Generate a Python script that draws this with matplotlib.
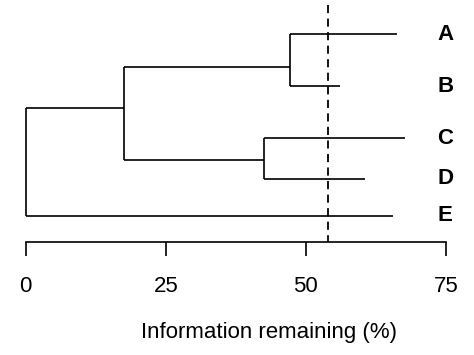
import matplotlib.pyplot as plt

# --- data ---
leaves = ['A', 'B', 'C', 'D', 'E']
leaf_end = [66.2, 56.0, 67.7, 60.6, 65.5]      # where each leaf branch stops (%)
leaf_parent = ['AB', 'AB', 'CD', 'CD', 'root']
nodes = ['AB', 'CD', 'ABCD', 'root']
node_height = [47.2, 42.5, 17.6, 0.0]          # information remaining at merge (%)
node_parent = ['ABCD', 'ABCD', 'root', None]
cutoff = 54.0
ticks = [0, 25, 50, 75]

# vertical layout (pixel rows of the reference, top = 0)
leaf_row = {'A': 34.3, 'B': 86.0, 'C': 138.3, 'D': 179.0, 'E': 215.7}
node_row = {'AB': 67.3, 'CD': 160.0, 'ABCD': 108.3, 'root': 160.0}

plt.rcParams['font.family'] = ['Liberation Sans', 'DejaVu Sans']

W, H = 474, 355
fig = plt.figure(figsize=(W / 100, H / 100), dpi=100)
x0, x1 = 25.7, 446.0
y_axis = 241.7
ax = fig.add_axes([x0 / W, 1 - y_axis / H, (x1 - x0) / W, y_axis / H])
ax.set_xlim(0, 75)
ax.set_ylim(y_axis, 0)

height = dict(zip(nodes, node_height))
kw = dict(color='black', lw=1.2, clip_on=False, solid_capstyle='butt')

# leaf branches
for name, end, par in zip(leaves, leaf_end, leaf_parent):
    ax.plot([height[par], end], [leaf_row[name]] * 2, **kw)
    ax.text(73.4, leaf_row[name], name, fontsize=16, fontweight='bold',
            ha='left', va='center')

# internal branches
for name, par in zip(nodes, node_parent):
    if par is not None:
        ax.plot([height[par], height[name]], [node_row[name]] * 2, **kw)

# vertical connectors
children = {}
for name, par in zip(leaves, leaf_parent):
    children.setdefault(par, []).append(leaf_row[name])
for name, par in zip(nodes, node_parent):
    if par is not None:
        children.setdefault(par, []).append(node_row[name])
children['root'] = [node_row['ABCD'], leaf_row['E']]
for name in nodes:
    rows = children[name]
    ax.plot([height[name]] * 2, [min(rows), max(rows)], **kw)

# cutoff line
ax.plot([cutoff, cutoff], [5, y_axis], color='black', lw=1.3,
        dashes=(4.5, 3), clip_on=False)

for s in ['top', 'right', 'left']:
    ax.spines[s].set_visible(False)
ax.spines['bottom'].set_bounds(0, 75)
ax.spines['bottom'].set_linewidth(1.2)
ax.set_yticks([])
ax.set_xticks(ticks)
ax.tick_params(axis='x', length=10, width=1.2, pad=14.5, labelsize=16)
ax.set_xlabel('Information remaining (%)', fontsize=16)
ax.xaxis.set_label_coords(0.58, -0.375)
ax.xaxis.label.set_va('center')

fig.savefig('out.png', dpi=100)
